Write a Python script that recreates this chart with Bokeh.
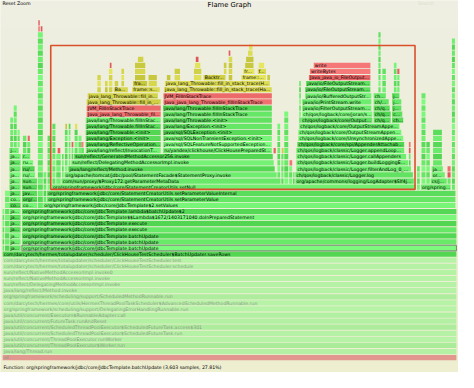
from bokeh.plotting import figure
from bokeh.models import Range1d, ColumnDataSource
from bokeh.core.properties import value
from bokeh.embed import file_html
from bokeh.resources import INLINE

# ---------------- data: x in samples, y in stack depth ----------------
TOTAL_SAMPLES = 3760  # zoomed frame (saveRows) spans the full width

BASE_STACK = [  # faded frames below the zoomed frame, depth 0..16
    "all",
    "java/lang/Thread.run",
    "java/util/concurrent/ThreadPoolExecutor$Worker.run",
    "java/util/concurrent/ThreadPoolExecutor.runWorker",
    "java/util/concurrent/ScheduledThreadPoolExecutor$ScheduledFutureTask.run",
    "java/util/concurrent/ScheduledThreadPoolExecutor$ScheduledFutureTask.access$301",
    "java/util/concurrent/FutureTask.runAndReset",
    "java/util/concurrent/Executors$RunnableAdapter.call",
    "org/springframework/scheduling/support/DelegatingErrorHandlingRunnable.run",
    "com/darcytech/hermes/core/utils/HermesThreadPoolTaskScheduler$AdvancedScheduledMethodRunnable.run",
    "org/springframework/scheduling/support/ScheduledMethodRunnable.run",
    "java/lang/reflect/Method.invoke",
    "sun/reflect/DelegatingMethodAccessorImpl.invoke",
    "sun/reflect/NativeMethodAccessorImpl.invoke",
    "sun/reflect/NativeMethodAccessorImpl.invoke0",
    "com/darcytech/hermes/totalupdater/scheduler/ClickHouseTestScheduler.schedule",
    "com/darcytech/hermes/totalupdater/scheduler/ClickHouseTestScheduler.test",
]
ZOOMED = ("com/darcytech/hermes/totalupdater/scheduler/ClickHouseTestScheduler$BatchUpdater.saveRows", 17, 0, 3760, "j")

# (name, depth, start, samples, kind)  kind: j=java, y=c++, r=native
JDBC_FRAMES = [
    ("org/springframework/jdbc/core/JdbcTemplate.batchUpdate", 18, 160, 3600, "j"),
    ("org/springframework/jdbc/core/JdbcTemplate.batchUpdate", 19, 160, 3600, "j"),
    ("org/springframework/jdbc/core/JdbcTemplate.batchUpdate", 20, 160, 3600, "j"),
    ("org/springframework/jdbc/core/JdbcTemplate.execute", 21, 160, 3600, "j"),
    ("org/springframework/jdbc/core/JdbcTemplate.execute", 22, 160, 3600, "j"),
    ("org/springframework/jdbc/core/JdbcTemplate$$Lambda$1672/1403171040.doInPreparedStatement", 23, 160, 3600, "j"),
    ("org/springframework/jdbc/core/JdbcTemplate.lambda$batchUpdate$2", 24, 160, 3600, "j"),
    ("org/springframework/jdbc/core/JdbcTemplate$2.setValues", 25, 336, 3416, "j"),
    ("org/springframework/jdbc/core/StatementCreatorUtils.setParameterValue", 26, 368, 3384, "j"),
    ("org/springframework/jdbc/core/StatementCreatorUtils.setParameterValueInternal", 27, 368, 3384, "j"),
    ("org/springframework/jdbc/core/StatementCreatorUtils.setNull", 28, 408, 3016, "j"),
    ("org/springframework/jdbc/core/StatementCreatorUtils.setValue", 28, 3464, 248, "j"),
    ("com/sun/proxy/$Proxy172.getParameterMetaData", 29, 488, 1816, "j"),
    ("org/apache/tomcat/jdbc/pool/StatementFacade$StatementProxy.invoke", 30, 512, 1760, "j"),
    ("java/lang/reflect/Method.invoke", 31, 544, 1712, "j"),
    ("sun/reflect/DelegatingMethodAccessorImpl.invoke", 32, 568, 1680, "j"),
    ("sun/reflect/GeneratedMethodAccessor256.invoke", 33, 592, 1648, "j"),
]

SIDE_FRAMES = [
    ("java/util/ArrayList.forEach", 18, 56, 96, "j"),
    ("java/util/stream/ReferencePipeline$3$1.accept", 19, 56, 96, "j"),
    ("java/util/stream/ReferencePipeline$2$1.accept", 20, 56, 96, "j"),
    ("java/util/Spliterators$ArraySpliterator.forEachRemaining", 21, 56, 96, "j"),
    ("java/util/stream/AbstractPipeline.copyInto", 22, 56, 96, "j"),
    ("java/util/stream/AbstractPipeline.wrapAndCopyInto", 23, 56, 96, "j"),
    ("java/util/stream/ReduceOps$ReduceOp.evaluateSequential", 24, 56, 96, "j"),
    ("com/darcytech/hermes/totalupdater/scheduler/BatchRow.toValues", 25, 56, 96, "j"),
    ("com/alibaba/fastjson/JSON.toJSONString", 26, 56, 96, "j"),
    ("java/lang/String.format", 27, 56, 96, "j"),
    ("java/util/Formatter.format", 28, 56, 96, "j"),
    ("java/util/Formatter$FormatSpecifier.print", 29, 56, 96, "j"),
    ("java/util/Formatter$FormatSpecifier.printString", 30, 56, 96, "j"),
    ("java/lang/Double.toString", 31, 56, 96, "j"),
    ("java/util/Formatter$FormatSpecifier.print", 32, 56, 96, "j"),
    ("java/text/DecimalFormat.format", 33, 56, 96, "j"),
    ("java/text/DigitList.set", 34, 56, 80, "j"),
    ("com/darcytech/hermes/totalupdater/scheduler/ClickHouseTestScheduler$BatchUpdater$1.setValues", 25, 160, 128, "j"),
    ("org/springframework/jdbc/core/ArgumentPreparedStatementSetter.setValues", 26, 160, 128, "j"),
    ("java/lang/reflect/Method.invoke", 27, 160, 128, "j"),
    ("sun/reflect/DelegatingMethodAccessorImpl.invoke", 28, 160, 128, "j"),
    ("sun/reflect/GeneratedMethodAccessor255.invoke", 29, 160, 128, "j"),
    ("ru/yandex/clickhouse/ClickHousePreparedStatementImpl.setString", 30, 160, 112, "j"),
    ("ru/yandex/clickhouse/ClickHousePreparedStatementImpl.setBind", 31, 160, 108, "j"),
    ("ru/yandex/clickhouse/util/ClickHouseValueFormatter.formatString", 32, 160, 96, "j"),
    ("ru/yandex/clickhouse/util/ClickHouseValueFormatter.escape", 33, 160, 72, "j"),
    ("cs/jdbc/ParameterHolder.set", 29, 3544, 136, "j"),
    ("org/slf4j/impl/Log4jLoggerAdapter.debug", 30, 3552, 112, "j"),
    ("java/lang/String.valueOf", 31, 3552, 96, "j"),
]

EXCEPTION_LEFT = [
    ("java/lang/reflect/InvocationTargetException.<init>", 34, 688, 624, "j"),
    ("java/lang/ReflectiveOperationException.<init>", 35, 688, 624, "j"),
    ("java/lang/Exception.<init>", 36, 688, 624, "j"),
    ("java/lang/Throwable.<init>", 37, 688, 624, "j"),
    ("java/lang/Throwable.fillInStackTrace", 38, 688, 624, "j"),
    ("java/lang/Throwable.fillInStackTrace", 39, 688, 624, "j"),
    ("Java_java_lang_Throwable_fillInStackTrace", 40, 696, 616, "r"),
    ("JVM_FillInStackTrace", 41, 696, 616, "r"),
    ("java_lang_Throwable::fill_in_stack_trace(Handle, methodHandle const&, Thread*)", 42, 696, 616, "y"),
    ("java_lang_Throwable::fill_in_stack_trace(Handle, methodHandle const&, Thread*)", 43, 704, 584, "y"),
    ("BacktraceBuilder::push", 44, 920, 120, "y"),
    ("frame::sender", 44, 1072, 232, "y"),
    ("frame::sender_for_compiled_frame", 45, 1080, 120, "y"),
]

EXCEPTION_RIGHT = [
    ("ru/yandex/clickhouse/ClickHousePreparedStatementImpl.getParameterMetaData", 34, 1328, 904, "j"),
    ("java/sql/SQLFeatureNotSupportedException.<init>", 35, 1328, 904, "j"),
    ("java/sql/SQLNonTransientException.<init>", 36, 1328, 904, "j"),
    ("java/sql/SQLException.<init>", 37, 1328, 904, "j"),
    ("java/lang/Exception.<init>", 38, 1328, 904, "j"),
    ("java/lang/Throwable.<init>", 39, 1328, 904, "j"),
    ("java/lang/Throwable.fillInStackTrace", 40, 1328, 904, "j"),
    ("java/lang/Throwable.fillInStackTrace", 41, 1328, 904, "j"),
    ("Java_java_lang_Throwable_fillInStackTrace", 42, 1332, 900, "r"),
    ("JVM_FillInStackTrace", 43, 1332, 900, "r"),
    ("java_lang_Throwable::fill_in_stack_trace(Handle, methodHandle const&, Thread*)", 44, 1336, 896, "y"),
    ("java_lang_Throwable::fill_in_stack_trace(Handle, methodHandle const&, Thread*)", 45, 1344, 872, "y"),
    ("BacktraceBuilder::expand", 46, 1584, 64, "y"),
    ("BacktraceBuilder::push", 46, 1664, 184, "y"),
    ("frame::sender", 46, 1976, 208, "y"),
    ("BacktraceBuilder::expand", 47, 1584, 64, "y"),
    ("frame::sender_for_compiled_frame", 47, 1992, 96, "y"),
    ("frame::is_interpreted_frame", 47, 2112, 72, "y"),
    ("CodeCache::find_blob", 48, 2008, 72, "y"),
]

LOGGING_FRAMES = [
    ("org/apache/commons/logging/LogAdapter$Slf4jLocationAwareLog.debug", 29, 2424, 984, "j"),
    ("ch/qos/logback/classic/Logger.log", 30, 2424, 976, "j"),
    ("ch/qos/logback/classic/Logger.filterAndLog_0_Or3Plus", 31, 2432, 952, "j"),
    ("ch/qos/logback/classic/Logger.buildLoggingEventAndAppend", 32, 2432, 928, "j"),
    ("ch/qos/logback/classic/Logger.callAppenders", 33, 2432, 912, "j"),
    ("ch/qos/logback/classic/Logger.appendLoopOnAppenders", 34, 2432, 896, "j"),
    ("ch/qos/logback/core/spi/AppenderAttachableImpl.appendLoopOnAppenders", 35, 2440, 888, "j"),
    ("ch/qos/logback/core/UnsynchronizedAppenderBase.doAppend", 36, 2448, 872, "j"),
    ("ch/qos/logback/core/OutputStreamAppender.append", 37, 2448, 856, "j"),
    ("ch/qos/logback/core/OutputStreamAppender.subAppend", 38, 2456, 832, "j"),
    ("ch/qos/logback/core/OutputStreamAppender.writeOut", 39, 2472, 592, "j"),
    ("ch/qos/logback/core/joran/spi/ConsoleTarget$1.write", 40, 2480, 584, "j"),
    ("java/io/FilterOutputStream.write", 41, 2480, 576, "j"),
    ("java/io/PrintStream.write", 42, 2480, 576, "j"),
    ("java/io/BufferedOutputStream.flushBuffer", 43, 2504, 552, "j"),
    ("java/io/FileOutputStream.write", 44, 2504, 544, "j"),
    ("java/io/FileOutputStream.writeBytes", 45, 2512, 536, "j"),
    ("Java_java_io_FileOutputStream_writeBytes", 46, 2536, 512, "r"),
    ("writeBytes", 47, 2544, 504, "r"),
    ("write", 48, 2576, 472, "r"),
    ("ch/qos/logback/core/encoder/LayoutWrappingEncoder.encode", 39, 3072, 144, "j"),
    ("ch/qos/logback/classic/PatternLayout.doLayout", 40, 3072, 144, "j"),
    ("ch/qos/logback/core/pattern/PatternLayoutBase.writeLoopOnConverters", 41, 3072, 136, "j"),
    ("ch/qos/logback/core/pattern/FormattingConverter.write", 42, 3072, 128, "j"),
    ("ch/qos/logback/classic/pattern/MessageConverter.convert", 43, 3072, 104, "j"),
    ("ch/qos/logback/core/OutputStreamAppender.flush", 39, 3224, 96, "j"),
    ("ch/qos/logback/core/recovery/ResilientOutputStreamBase.flush", 40, 3224, 88, "j"),
    ("java/io/PrintStream.flush", 41, 3224, 80, "j"),
    ("java/io/BufferedOutputStream.flush", 42, 3224, 80, "j"),
    ("java/io/FileOutputStream.flush", 43, 3224, 64, "j"),
]

# thin unlabeled stacks: (start, samples, first depth, last depth, kind)
TOWERS = [
    (0, 16, 18, 24, "j"), (20, 36, 18, 27, "j"), (64, 24, 35, 39, "j"),
    (92, 28, 35, 41, "j"), (124, 20, 35, 37, "j"), (168, 32, 34, 36, "j"),
    (204, 28, 34, 35, "j"), (208, 20, 36, 36, "r"), (292, 44, 25, 53, "j"),
    (296, 14, 54, 55, "r"), (316, 16, 54, 54, "r"), (340, 24, 26, 30, "j"),
    (372, 32, 28, 36, "j"), (412, 28, 29, 38, "j"), (444, 40, 29, 33, "j"),
    (456, 24, 34, 34, "r"), (492, 16, 30, 33, "j"), (516, 24, 31, 37, "j"),
    (520, 16, 38, 38, "y"), (548, 16, 32, 38, "j"), (572, 16, 33, 34, "j"),
    (572, 16, 35, 35, "r"), (596, 28, 34, 37, "j"), (600, 20, 38, 38, "y"),
    (628, 28, 34, 36, "j"), (652, 24, 34, 34, "j"), (652, 20, 35, 35, "r"),
    (2244, 20, 34, 34, "r"), (2276, 24, 30, 38, "j"), (2308, 20, 29, 33, "j"),
    (2312, 16, 34, 34, "y"), (2332, 36, 29, 40, "j"), (2372, 28, 29, 31, "j"),
    (2376, 24, 32, 32, "r"), (2404, 16, 29, 30, "j"), (2456, 16, 39, 45, "j"),
    (3112, 20, 44, 53, "j"), (3144, 32, 44, 47, "j"), (3240, 24, 44, 48, "j"),
    (3268, 20, 44, 46, "j"), (3268, 20, 47, 47, "r"), (3364, 16, 32, 33, "j"),
    (3364, 16, 34, 35, "r"), (3432, 24, 28, 31, "j"), (3468, 36, 29, 43, "j"),
    (3508, 32, 29, 35, "j"), (3564, 76, 32, 37, "j"), (3684, 28, 29, 29, "j"),
    (3684, 28, 30, 31, "r"), (3720, 28, 28, 52, "j"),
    # c++ frames on top of the exception stacks
    (784, 32, 44, 46, "y"), (848, 24, 44, 45, "y"), (880, 32, 44, 47, "y"),
    (888, 16, 48, 48, "r"), (928, 32, 45, 45, "y"), (984, 24, 45, 47, "y"),
    (1208, 72, 45, 46, "y"), (1096, 88, 46, 48, "y"), (1120, 48, 49, 49, "y"),
    (2016, 64, 49, 49, "y"), (2032, 40, 50, 50, "y"), (2040, 32, 51, 51, "y"),
    (1592, 48, 48, 48, "y"), (1600, 24, 49, 49, "r"), (1360, 32, 46, 46, "y"),
    (1424, 48, 46, 47, "y"), (1872, 32, 46, 49, "y"), (1872, 16, 50, 50, "r"),
    (2192, 24, 46, 46, "y"), (1832, 24, 47, 48, "y"), (2120, 48, 48, 48, "y"),
]

HOVERED = (160, 3600, 18)                    # frame under the mouse
HIGHLIGHT = (400, 3416, 28.14, 51.76)        # annotation box: samples / depth
TITLE = "Flame Graph"
DETAILS = "Function: org/springframework/jdbc/core/JdbcTemplate.batchUpdate (3,603 samples, 27.81%)"

# ---------------- layout ----------------
W, H = 458, 372
X0, X1 = -16, 3776
Y0, Y1 = -1.94, 59.16
FONT_PX = 4.65
PX_PER_SAMPLE = W / (X1 - X0)

CW = {'i': .278, 'j': .278, 'l': .278, '.': .318, ',': .318, ':': .337, ';': .337,
      '/': .337, 'f': .352, 't': .392, 'r': .411, 'I': .295, 'J': .295, 's': .521,
      'c': .55, 'z': .525, 'k': .579, 'v': .592, 'x': .592, 'y': .592, 'a': .613,
      'e': .615, 'o': .612, 'm': .974, 'w': .818, '_': .5, '$': .636, '(': .39,
      ')': .39, '<': .838, '>': .838, ' ': .318, '&': .78, '*': .5, '-': .361,
      'M': .863, 'W': .989, 'T': .611, 'L': .557, 'F': .575, 'E': .632}


def text_w(s):
    tot = 0.0
    for c in s:
        if c in CW:
            tot += CW[c]
        elif c.isupper():
            tot += .70
        elif c.isdigit():
            tot += .636
        else:
            tot += .634
    return tot * FONT_PX


def fit_label(name, samples):
    avail = samples * PX_PER_SAMPLE - 1.6
    if avail < text_w("j..."):
        return ""
    if text_w(name) <= avail:
        return name
    for k in range(len(name) - 1, 0, -1):
        cand = name[:k] + "..."
        if text_w(cand) <= avail:
            return cand
    return ""


def shade(name, depth, start):
    return ((sum(ord(c) for c in name) * 37 + depth * 53 + start * 7) % 97) / 96.0


def color(kind, v):
    if kind == "j":
        rgb = (82 + 45 * v, 214 + 38 * v, 82 + 45 * v)
    elif kind == "y":
        rgb = (198 + 32 * v, 198 + 32 * v, 60 + 35 * v)
    elif kind == "r":
        rgb = (224 + 26 * v, 86 + 40 * v, 86 + 40 * v)
    elif kind == "fj":
        rgb = (168 + 16 * v, 234 + 10 * v, 152 + 16 * v)
    else:
        rgb = (226, 152, 142)
    return "#%02x%02x%02x" % tuple(int(c) for c in rgb)


frames = []
for d, name in enumerate(BASE_STACK):
    frames.append((name, d, 0, TOTAL_SAMPLES, "fr" if d == 0 else "fj"))
frames.append(ZOOMED)
for group in (JDBC_FRAMES, SIDE_FRAMES, EXCEPTION_LEFT, EXCEPTION_RIGHT, LOGGING_FRAMES):
    frames.extend(group)
for (s, n, d0, d1, kind) in TOWERS:
    for d in range(d0, d1 + 1):
        frames.append(("", d, s, n, kind))

rect = dict(left=[], right=[], bottom=[], top=[], color=[])
txt = dict(x=[], y=[], label=[], tcolor=[])
for (name, d, s, n, kind) in frames:
    gap = 1.6 if n > 24 else 1.0
    rect["left"].append(s + gap)
    rect["right"].append(s + n - gap)
    rect["bottom"].append(d + 0.07)
    rect["top"].append(d + 0.93)
    rect["color"].append(color(kind, shade(name or "x", d, s)))
    lab = fit_label(name, n) if name else ""
    if lab:
        txt["x"].append(s)
        txt["y"].append(d + 0.47)
        txt["label"].append(lab)
        txt["tcolor"].append("#8e9a88" if kind in ("fj", "fr") else "#000000")

p = figure(width=W, height=H, x_range=Range1d(X0, X1), y_range=Range1d(Y0, Y1),
           output_backend="svg", toolbar_location=None, min_border=0)
p.axis.visible = False
p.grid.visible = False
p.outline_line_color = None
p.background_fill_color = "#eeeedc"
p.border_fill_color = "#eeeedc"

# background gradient bands
nb = 40
bands = dict(b=[], t=[], c=[])
for i in range(nb):
    f = i / (nb - 1)
    bands["b"].append(Y1 - (i + 1) * (Y1 - Y0) / nb)
    bands["t"].append(Y1 - i * (Y1 - Y0) / nb + 0.01)
    g = 226 - 18 * f
    bands["c"].append("#%02x%02x%02x" % (238, 238, int(g)))
p.quad(left=X0, right=X1, bottom="b", top="t", fill_color="c", line_color=None,
       source=ColumnDataSource(bands))

p.quad(source=ColumnDataSource(rect), left="left", right="right", bottom="bottom",
       top="top", fill_color="color", line_color=None)
p.text(source=ColumnDataSource(txt), x="x", y="y", text="label", text_color="tcolor",
       x_offset=1.3, text_baseline="middle", text_font=value("DejaVu Sans"),
       text_font_size=value("%.2fpx" % FONT_PX))

# hovered frame outline
p.quad(left=[HOVERED[0] + 1], right=[HOVERED[0] + HOVERED[1] - 1],
       bottom=[HOVERED[2] + 0.04], top=[HOVERED[2] + 0.96],
       fill_color=None, line_color="#6a6a6a", line_width=0.8)

# annotation box
p.quad(left=[HIGHLIGHT[0]], right=[HIGHLIGHT[1]], bottom=[HIGHLIGHT[2]], top=[HIGHLIGHT[3]],
       fill_color=None, line_color="#d9502b", line_width=1.6)

# header / footer texts, flush with the top edge
p.text(x=[(X0 + X1) / 2], y=[Y1], text=[TITLE], text_align="center",
       text_baseline="top", y_offset=0.5, text_font=value("DejaVu Sans"),
       text_font_size=value("6.8px"), text_color="#000000")
p.text(x=[0], y=[Y1], text=["Reset Zoom"], text_baseline="top", y_offset=0.5,
       text_font=value("DejaVu Sans"), text_font_size=value("4.7px"), text_color="#000000")
p.text(x=[3440], y=[Y1], text=["Search"], text_baseline="top", y_offset=0.5,
       text_font=value("DejaVu Sans"), text_font_size=value("4.7px"), text_color="#dcdcc8")
p.text(x=[8], y=[-1.15], text=[DETAILS], text_baseline="alphabetic",
       text_font=value("DejaVu Sans"), text_font_size=value("%.2fpx" % FONT_PX),
       text_color="#000000")

open("out.html", "w").write(file_html(p, INLINE))
